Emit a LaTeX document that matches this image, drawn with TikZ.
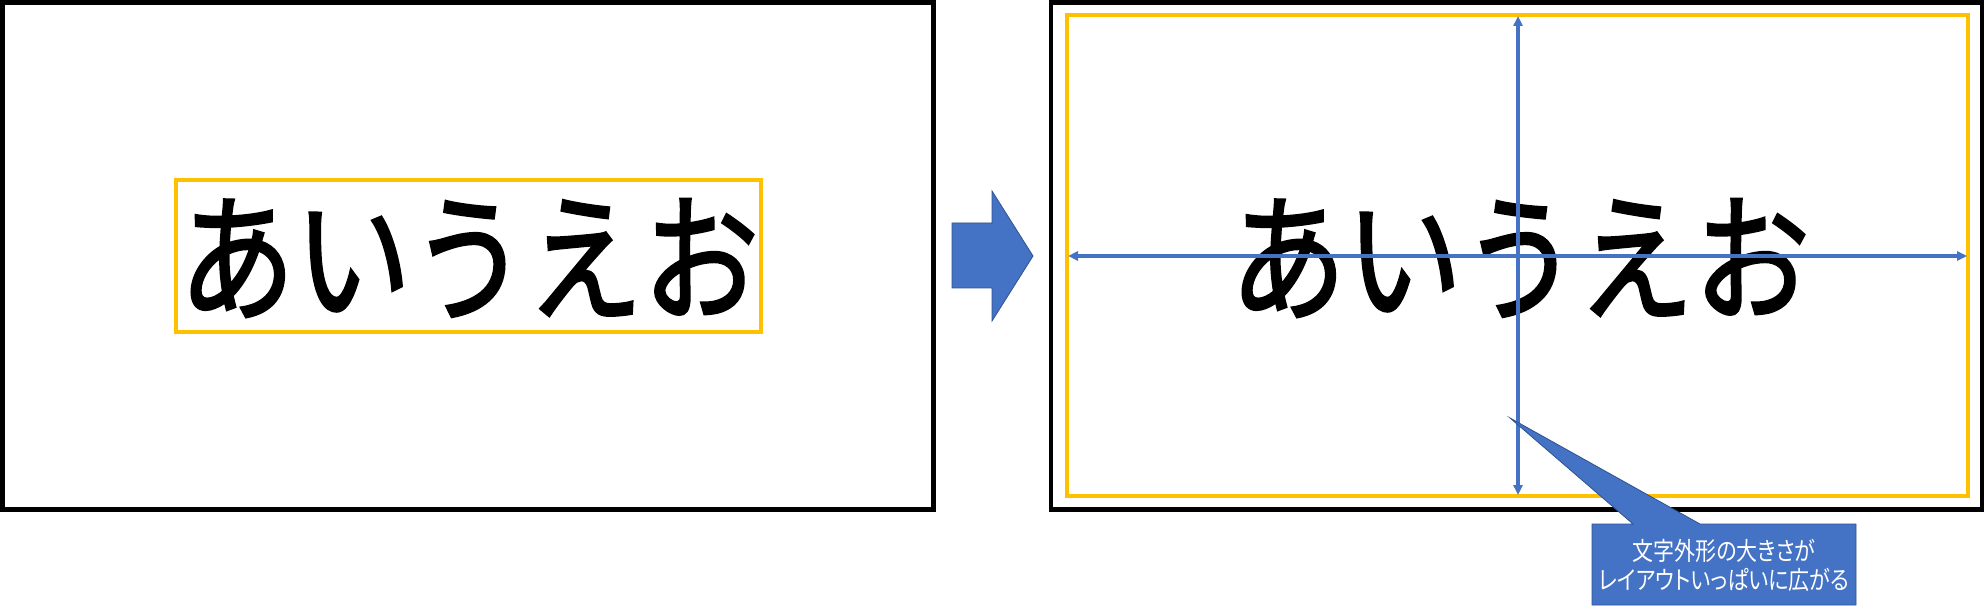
\documentclass[tikz,border=0pt]{standalone}
\usepackage{fontspec}
\newfontfamily\jp[FakeBold=2]{Noto Sans CJK JP}
\newfontfamily\jpp[RawFeature=+palt]{Noto Sans CJK JP}
\usetikzlibrary{arrows.meta}
\definecolor{accent}{HTML}{4472C4}
\definecolor{accentdark}{HTML}{2F528F}
\definecolor{gold}{HTML}{FFC000}
\tikzset{
  frame/.style={draw=black, line width=4.5pt},
  layoutbox/.style={draw=gold, line width=4pt},
  bigtext/.style={font=\jp\fontsize{116}{116}\selectfont, inner sep=0pt},
  dimline/.style={draw=accent, line width=3.5pt, {Triangle[length=10pt,width=9pt]}-{Triangle[length=10pt,width=9pt]}},
  blockshape/.style={fill=accent, draw=accentdark, line width=0.8pt},
  calltext/.style={font=\jpp\fontsize{21}{28}\selectfont, text=white, inner sep=0pt}
}
\begin{document}
\begin{tikzpicture}[x=1pt,y=-1pt]
\useasboundingbox (0,0) rectangle (1986,609);
% left panel
\draw[frame] (2.5,2.5) rectangle (933.5,509.5);
\draw[layoutbox] (176,180) rectangle (761,332);
\node[bigtext] (lefttext) at (469,258) {\scalebox{1}[1.2]{あいうえお}};
% block arrow
\draw[blockshape] (952,223) -- (992,223) -- (992,191) -- (1033,256) -- (992,321) -- (992,288) -- (952,288) -- cycle;
% right panel
\draw[frame] (1051,2.5) rectangle (1982,509.5);
\draw[layoutbox] (1067,15) rectangle (1968,496);
\node[bigtext] (righttext) at (1520,258) {\scalebox{1}[1.2]{あいうえお}};
\coordinate (hl) at (1068,256);
\coordinate (hr) at (1967,256);
\coordinate (vt) at (1518,16);
\coordinate (vb) at (1518,495);
\draw[dimline] (hl) -- (hr);
\draw[dimline] (vt) -- (vb);
% callout
\coordinate (tip) at (1510,418);
\draw[blockshape] (1592,524) -- (1633,524) -- (tip) -- (1700,524) -- (1856,524) -- (1856,605) -- (1592,605) -- cycle;
\node[calltext] (note1) at (1724,551) {\scalebox{1}[1.2]{文字外形の大きさが}};
\node[calltext] (note2) at (1724,580) {\scalebox{1}[1.2]{レイアウトいっぱいに広がる}};
\end{tikzpicture}
\end{document}
